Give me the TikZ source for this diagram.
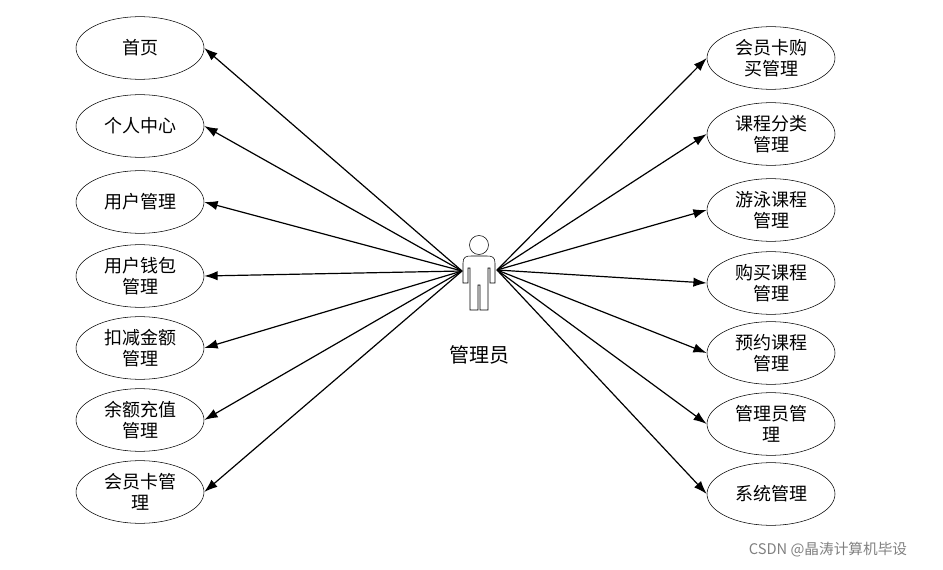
\documentclass[tikz,border=0pt]{standalone}
\usepackage{fontspec}
\setmainfont{Noto Sans CJK SC}
\usetikzlibrary{shapes.geometric,arrows.meta}
\begin{document}
\begin{tikzpicture}[x=0.75pt,y=-0.75pt,
  uc/.style={draw,ellipse,minimum width=96pt,minimum height=47pt,inner sep=0pt,align=center,font=\fontsize{13.5pt}{16pt}\selectfont},
  arr/.style={-{Latex[length=10pt,width=7pt]},line width=0.9pt}]
\useasboundingbox (0,0) rectangle (943,570);
\foreach \n/\y/\t in {l1/48/首页,l2/126/个人中心,l3/202/用户管理,l4/276/{用户钱包\\管理},l5/348/{扣减金额\\管理},l6/420/{余额充值\\管理},l7/492/{会员卡管\\理}}
  \node[uc] (\n) at (140,\y) {\t};
\foreach \n/\y/\t in {r1/58/{会员卡购\\买管理},r2/134/{课程分类\\管理},r3/210/{游泳课程\\管理},r4/283/{购买课程\\管理},r5/353/{预约课程\\管理},r6/424/{管理员管\\理},r7/494/系统管理}
  \node[uc] (\n) at (771,\y) {\t};
% actor
\draw[fill=white] (479,245) circle (9.5);
\draw[fill=white] (463,283) -- (463,263) .. controls (463,257) and (466,256) .. (471,256) -- (487,256) .. controls (492,256) and (495,257) .. (495,263) -- (495,283) -- (490,283) -- (490,268) -- (488,268) -- (488,310) -- (480,310) -- (480,285) -- (478,285) -- (478,310) -- (470,310) -- (470,268) -- (468,268) -- (468,283) -- cycle;
\node[font=\fontsize{15pt}{17pt}\selectfont] (lab) at (479,355) {管理员};
\coordinate (aL) at (462,271);
\coordinate (aR) at (497,270);
\foreach \n in {l1,l2,l3,l4,l5,l6,l7} \draw[arr] (aL) -- (\n.east);
\foreach \n in {r1,r2,r3,r4,r5,r6,r7} \draw[arr] (aR) -- (\n.west);
\node[text=gray,font=\fontsize{11pt}{13pt}\selectfont] (wm) at (828,550) {CSDN @晶涛计算机毕设};
\end{tikzpicture}
\end{document}
